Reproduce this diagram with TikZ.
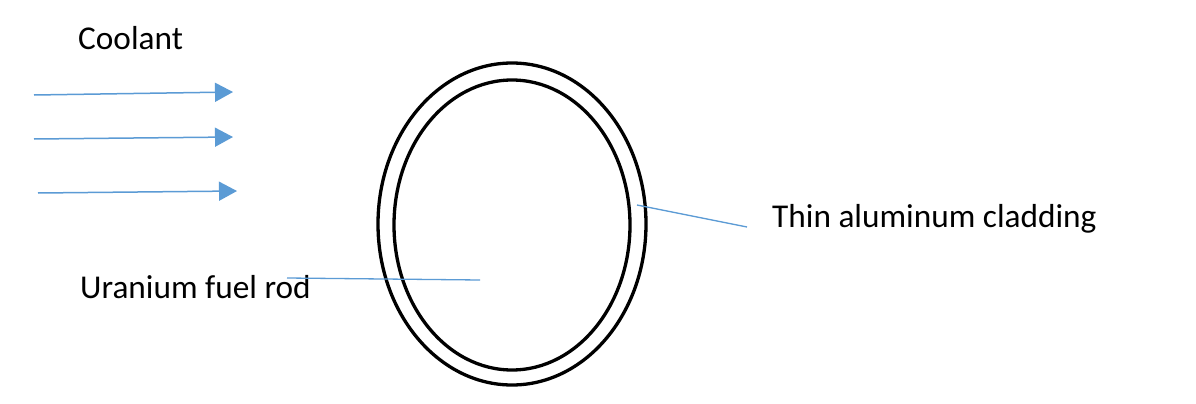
\documentclass[tikz,border=0pt]{standalone}
\usepackage{fontspec}
\setmainfont{Carlito}
\usetikzlibrary{arrows.meta,shapes.geometric}
\definecolor{leader}{HTML}{5B9BD5}
\begin{document}
\begin{tikzpicture}[x=1pt,y=-1pt,
  lbl/.style={anchor=base west,inner sep=0pt,font=\fontsize{33.3}{40}\selectfont,text=black},
  flow/.style={draw=leader,line width=1.5pt,-{Triangle[length=18pt,width=19pt]}},
  leadline/.style={draw=leader,line width=1.3pt},
  ring/.style={ellipse,draw=black,line width=3.3pt,inner sep=0pt}]
\useasboundingbox[fill=white] (0,0) rectangle (1196,404);
% text
\node[lbl] (coolant) at (78,49) {Coolant};
\node[lbl] (clad) at (772,227) {Thin aluminum cladding};
\node[lbl] (fuel) at (80,298) {Uranium fuel rod};
% rings
\node[ring,minimum width=268pt,minimum height=322pt] (outer) at (512,224) {};
\node[ring,minimum width=236pt,minimum height=290pt] (inner) at (512,225) {};
% coolant arrows
\coordinate (a1s) at (34,95); \coordinate (a1e) at (233,92);
\coordinate (a2s) at (34,139); \coordinate (a2e) at (233,137);
\coordinate (a3s) at (38,193); \coordinate (a3e) at (237,191);
\draw[flow] (a1s) -- (a1e);
\draw[flow] (a2s) -- (a2e);
\draw[flow] (a3s) -- (a3e);
% leaders
\coordinate (cl1) at (637,205); \coordinate (cl2) at (747,227);
\draw[leadline] (cl1) -- (cl2);
\coordinate (fu1) at (287,278); \coordinate (fu2) at (480,280);
\draw[leadline] (fu1) -- (fu2);
\end{tikzpicture}
\end{document}
